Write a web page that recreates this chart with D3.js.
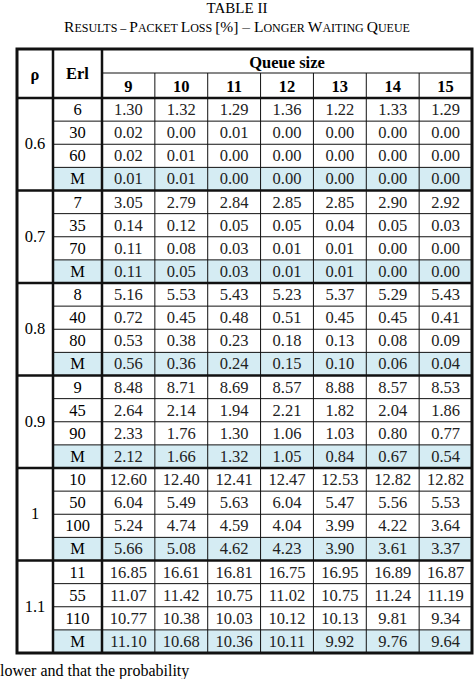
<!DOCTYPE html><html><head><meta charset="utf-8"><script src="https://cdn.jsdelivr.net/npm/d3@7"></script>
<style>body{margin:0;background:#fff}svg{font-family:"Liberation Serif","Times New Roman",serif}</style></head><body><svg id="c" width="474" height="679"></svg>
<script>
const rhoGroups=["0.6","0.7","0.8","0.9","1","1.1"];
const erl=[["6","30","60","M"],["7","35","70","M"],["8","40","80","M"],["9","45","90","M"],["10","50","100","M"],["11","55","110","M"]];
const queueSizes=["9","10","11","12","13","14","15"];
const values=[
["1.30","1.32","1.29","1.36","1.22","1.33","1.29"],["0.02","0.00","0.01","0.00","0.00","0.00","0.00"],["0.02","0.01","0.00","0.00","0.00","0.00","0.00"],["0.01","0.01","0.00","0.00","0.00","0.00","0.00"],
["3.05","2.79","2.84","2.85","2.85","2.90","2.92"],["0.14","0.12","0.05","0.05","0.04","0.05","0.03"],["0.11","0.08","0.03","0.01","0.01","0.00","0.00"],["0.11","0.05","0.03","0.01","0.01","0.00","0.00"],
["5.16","5.53","5.43","5.23","5.37","5.29","5.43"],["0.72","0.45","0.48","0.51","0.45","0.45","0.41"],["0.53","0.38","0.23","0.18","0.13","0.08","0.09"],["0.56","0.36","0.24","0.15","0.10","0.06","0.04"],
["8.48","8.71","8.69","8.57","8.88","8.57","8.53"],["2.64","2.14","1.94","2.21","1.82","2.04","1.86"],["2.33","1.76","1.30","1.06","1.03","0.80","0.77"],["2.12","1.66","1.32","1.05","0.84","0.67","0.54"],
["12.60","12.40","12.41","12.47","12.53","12.82","12.82"],["6.04","5.49","5.63","6.04","5.47","5.56","5.53"],["5.24","4.74","4.59","4.04","3.99","4.22","3.64"],["5.66","5.08","4.62","4.23","3.90","3.61","3.37"],
["16.85","16.61","16.81","16.75","16.95","16.89","16.87"],["11.07","11.42","10.75","11.02","10.75","11.24","11.19"],["10.77","10.38","10.03","10.12","10.13","9.81","9.34"],["11.10","10.68","10.36","10.11","9.92","9.76","9.64"]];
const svg=d3.select("#c");
const L=17,R=472,T=49,H1=73,H2=98,B=653;
const x=d3.scaleBand().domain(queueSizes).range([102,R]);
const y=d3.scaleBand().domain(d3.range(values.length)).range([H2,B]);
const cx0=L,cx1=53,cx2=102;
svg.append("text").attr("x",237).attr("y",13).attr("text-anchor","middle").attr("font-size",15).text("TABLE II");
const st=svg.append("text").attr("x",237).attr("y",32).attr("text-anchor","middle").attr("font-size",15.5);
st.append("tspan").text("R");st.append("tspan").attr("font-size",12).text("ESULTS – ");
st.append("tspan").text("P");st.append("tspan").attr("font-size",12).text("ACKET ");
st.append("tspan").text("L");st.append("tspan").attr("font-size",12).text("OSS ");
st.append("tspan").text("[%] – L");st.append("tspan").attr("font-size",12).text("ONGER ");
st.append("tspan").text("W");st.append("tspan").attr("font-size",12).text("AITING ");
st.append("tspan").text("Q");st.append("tspan").attr("font-size",12).text("UEUE");
values.forEach((r,i)=>{if(i%4===3)svg.append("rect").attr("x",cx1).attr("y",y(i)).attr("width",R-cx1).attr("height",y.bandwidth()).attr("fill","#d5ecf3");});
const line=(x1,y1,x2,y2,w)=>svg.append("line").attr("x1",x1).attr("y1",y1).attr("x2",x2).attr("y2",y2).attr("stroke","#111").attr("stroke-width",w);
values.forEach((r,i)=>{if(i%4!==0)line(cx1,y(i),R,y(i),1);});
line(cx2,H1,R,H1,1);
queueSizes.forEach((q,j)=>{if(j>0)line(x(q),H1,x(q),B,1);});
rhoGroups.forEach((g,k)=>{if(k>0)line(L,y(k*4),R,y(k*4),2.5);});
line(L,H2,R,H2,2.5);
line(cx1,T,cx1,B,2.5);line(cx2,T,cx2,B,2.5);
svg.append("rect").attr("x",L).attr("y",T).attr("width",R-L).attr("height",B-T).attr("fill","none").attr("stroke","#111").attr("stroke-width",3);
const fs=16.5;
svg.append("text").attr("x",(cx0+cx1)/2).attr("y",80).attr("text-anchor","middle").attr("font-size",fs).attr("font-weight","bold").text("ρ");
svg.append("text").attr("x",(cx1+cx2)/2).attr("y",79).attr("text-anchor","middle").attr("font-size",fs).attr("font-weight","bold").text("Erl");
svg.append("text").attr("x",(cx2+R)/2).attr("y",68).attr("text-anchor","middle").attr("font-size",fs).attr("font-weight","bold").text("Queue size");
queueSizes.forEach(q=>svg.append("text").attr("x",x(q)+x.bandwidth()/2).attr("y",92).attr("text-anchor","middle").attr("font-size",fs).attr("font-weight","bold").text(q));
rhoGroups.forEach((g,k)=>svg.append("text").attr("x",(cx0+cx1)/2).attr("y",(y(k*4)+y(k*4+3)+y.bandwidth())/2+5).attr("text-anchor","middle").attr("font-size",fs).text(g));
erl.flat().forEach((e,i)=>svg.append("text").attr("x",(cx1+cx2)/2).attr("y",y(i)+y.bandwidth()/2+5.5).attr("text-anchor","middle").attr("font-size",fs).text(e));
values.forEach((r,i)=>r.forEach((v,j)=>svg.append("text").attr("x",x(queueSizes[j])+x.bandwidth()/2).attr("y",y(i)+y.bandwidth()/2+5.5).attr("text-anchor","middle").attr("font-size",fs).attr("fill","#222").text(v)));
svg.append("text").attr("x",0).attr("y",676).attr("font-size",16).text("lower and that the probability");
</script></body></html>
